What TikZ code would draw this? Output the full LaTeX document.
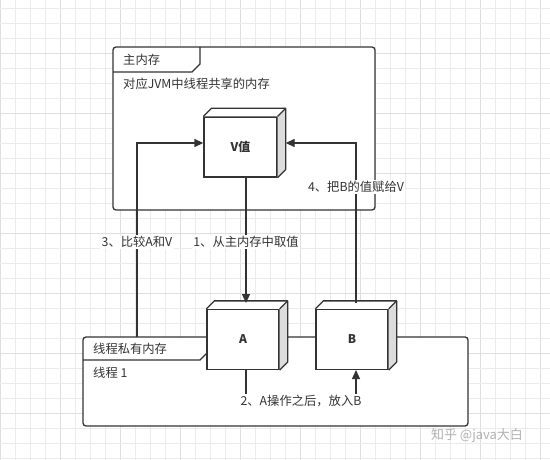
\documentclass[tikz,border=0pt]{standalone}
\usepackage{fontspec}
\setmainfont{Noto Sans CJK SC}
\usetikzlibrary{arrows.meta,calc}
\definecolor{ink}{HTML}{333333}
\definecolor{txt}{HTML}{333333}
\definecolor{gridA}{HTML}{EBEBEB}
\definecolor{gridB}{HTML}{DEDEDE}
\definecolor{sidec}{HTML}{DCDCDC}
\tikzset{
  face/.style={draw=ink, line width=1.3pt, fill=white, minimum width=72pt, minimum height=60pt, inner sep=0pt, font=\fontsize{12}{14}\selectfont\bfseries, text=txt},
  cont/.style={draw=ink, line width=1.3pt, rounded corners=3pt},
  conn/.style={draw=ink, line width=1.3pt},
  arr/.style={conn, -{Triangle[length=9pt,width=8pt]}},
  lbl/.style={fill=white, inner sep=1.5pt, text=txt, font=\fontsize{12.3}{14}\selectfont},
  ctext/.style={anchor=west, inner sep=0pt, text=txt, font=\fontsize{12.3}{14}\selectfont},
  wm/.style={inner sep=0pt, text=black!30, font=\fontsize{13}{15}\selectfont}
}
\newcommand\cubedeco[1]{%
  \fill[white] (#1.north west) -- ++(8,-8) -- ($(#1.north east)+(8,-8)$) -- (#1.north east) -- cycle;
  \fill[sidec] (#1.north east) -- ++(8,-8) -- ($(#1.south east)+(8,-8)$) -- (#1.south east) -- cycle;
  \draw[ink, line width=1.3pt, line join=round] (#1.north west) -- ++(8,-8) -- ($(#1.north east)+(8,-8)$) -- ($(#1.south east)+(8,-8)$) -- (#1.south east);
  \draw[ink, line width=1.3pt] (#1.north east) -- ++(8,-8);
}
\begin{document}
\begin{tikzpicture}[x=1pt,y=-1pt]
\useasboundingbox (0,0) rectangle (550,460);
\fill[white] (0,0) rectangle (550,460);
% grid
\foreach \i in {0,...,37}{
  \pgfmathsetmacro\xx{\i*15}
  \pgfmathparse{mod(\i,4)==0 ? "gridB" : "gridA"}
  \draw[\pgfmathresult, line width=0.8pt] (\xx,0) -- (\xx,460);
}
\foreach \j in {0,...,30}{
  \pgfmathsetmacro\yy{8+\j*15}
  \pgfmathparse{mod(\j,4)==3 ? "gridB" : "gridA"}
  \draw[\pgfmathresult, line width=0.8pt] (0,\yy) -- (550,\yy);
}
% main memory container
\draw[cont, fill=white] (113,47) rectangle (375,210);
\draw[conn, line join=round] (113,72) -- (192,72) -- (200,64) -- (200,47);
\node[ctext] (mtitle) at (123,60) {主内存};
\node[ctext] (mdesc) at (123,84) {对应JVM中线程共享的内存};
% thread container
\draw[cont, fill=white] (83,337) rectangle (468,426);
\draw[conn, line join=round] (83,360) -- (200,360) -- (208,352) -- (208,337);
\node[ctext] (ttitle) at (93,349) {线程私有内存};
\node[ctext] (tdesc) at (93,373) {线程 1};
% cubes
\node[face, minimum width=73pt] (V) at (240.5,147) {V值};
\cubedeco{V}
\node[face] (A) at (243,339.5) {A};
\cubedeco{A}
\node[face] (B) at (352,339.5) {B};
\cubedeco{B}
% anchor coordinates
\coordinate (Vl) at ($(V.west)+(0,-4)$);
\coordinate (Vr) at ($(V.east)+(8,-4)$);
\coordinate (c3) at (137,337);
\coordinate (Vb) at (246,177);
\coordinate (At) at (246,303);
\coordinate (Ab) at (246,370);
\coordinate (Bt) at (356,303);
\coordinate (Bb) at (356,370);
% connectors
\draw[arr] (c3) |- node[lbl, pos=0.245] (l3) {3、比较A和V} (Vl);
\draw[arr] (Vb) -- node[lbl, pos=0.516] (l1) {1、从主内存中取值} (At);
\draw[arr] (Bt) |- node[lbl, pos=0.3625] (l4) {4、把B的值赋给V} (Vr);
\draw[arr] (Ab) -- ++(0,31) -| node[lbl, pos=0.25] (l2) {2、A操作之后，放入B} (Bb);
% watermark
\node[wm] (wm) at (477,436) {知乎 @java大白};
\end{tikzpicture}
\end{document}
